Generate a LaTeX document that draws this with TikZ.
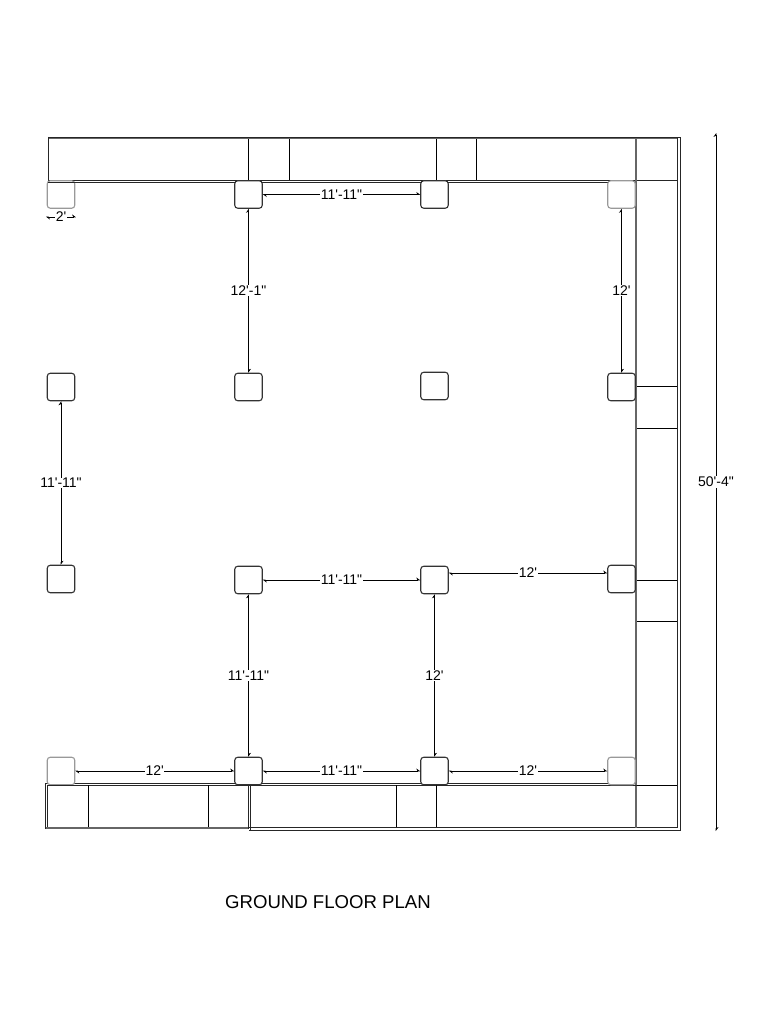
\documentclass[tikz,border=0pt]{standalone}
\usepackage{fontspec}
\setmainfont[Ligatures=TeXOff]{Liberation Sans}
\usetikzlibrary{arrows.meta}
\tikzset{
  wall/.style={draw=black!85,line width=0.9pt},
  gray wall/.style={draw=black!60,line width=1.9pt},
  thin wall/.style={draw=black,line width=0.9pt},
  pier/.style={draw=black!80,line width=1.1pt,fill=white,rounded corners=3pt,minimum size=27.5pt,inner sep=0pt},
  pale pier/.style={pier,draw=black!40},
  dim/.style={draw=black,line width=0.9pt,{Stealth[length=3.5pt,width=5pt,harpoon]}-{Stealth[length=3.5pt,width=5pt,harpoon]}},
  dim label/.style={font=\fontsize{14}{16}\selectfont,fill=white,inner sep=0.6pt},
  title/.style={font=\fontsize{18.6}{22}\selectfont,inner sep=0pt}
}
\begin{document}
\begin{tikzpicture}[x=1pt,y=-1pt]
\useasboundingbox (0,0) rectangle (768,1024);
\fill[white] (0,0) rectangle (768,1024);
% top wall
\draw[gray wall] (48,138) -- (677.5,138);
\draw[wall] (677.5,138) -- (677.5,827.5) -- (249,827.5);
\draw[wall] (48,137) -- (680,137) -- (680,830) -- (249,830);
\draw[wall] (48,137) -- (48,180);
\draw[wall] (48,180.5) -- (677,180.5);
\draw[wall] (48,182.5) -- (608,182.5);
\foreach \x in {248,289,436,476} \draw[thin wall] (\x,139) -- (\x,180);
% right wall
\draw[gray wall] (636,139) -- (636,828);
\foreach \y in {386,428,580,621,785} \draw[thin wall] (637,\y) -- (677,\y);
% bottom walls
\draw[wall] (45.5,783) -- (45.5,829);
\draw[wall] (47.5,785) -- (47.5,827);
\draw[gray wall] (45.5,828) -- (249,828);
\draw[wall] (45.5,783) -- (249,783);
\draw[wall] (47.5,785) -- (637,785);
\draw[wall] (250,783) -- (635,783);
\draw[wall] (248,785) -- (248,829);
\draw[wall] (250,785) -- (250,830);
\foreach \x in {88,208,396,436} \draw[thin wall] (\x,785) -- (\x,827);
% piers
\node[pale pier] (a1) at (61,194.5) {};
\node[pier] (b1) at (248.5,194.5) {};
\node[pier] (c1) at (434.5,194.5) {};
\node[pale pier] (d1) at (621.5,194.5) {};
\node[pier] (a2) at (61,387) {};
\node[pier] (b2) at (248.5,387) {};
\node[pier] (c2) at (434.5,386) {};
\node[pier] (d2) at (621.5,387) {};
\node[pier] (a3) at (61,579) {};
\node[pier] (b3) at (248.5,580) {};
\node[pier] (c3) at (434.5,580) {};
\node[pier] (d3) at (621.5,579) {};
\node[pale pier] (a4) at (61,771) {};
\node[pier] (b4) at (248.5,771) {};
\node[pier] (c4) at (434.5,771) {};
\node[pale pier] (d4) at (621.5,771) {};
% wall lines that pass along the pale piers' edges
\draw[wall] (48,182) -- (75,182);
\draw[wall] (47,785) -- (75,785);
% free ends
\coordinate (ovT) at (716,133);
\coordinate (ovB) at (716,831);
\coordinate (wL) at (46,217);
\coordinate (wR) at (76,217);
% dimensions
\draw[dim] (b1.east) -- node[dim label] {11'-11"} (c1.west);
\draw[dim] (b1.south) -- node[dim label] {12'-1"} (b2.north);
\draw[dim] (d1.south) -- node[dim label] {12'} (d2.north);
\draw[dim] (a2.south) -- node[dim label] {11'-11"} (a3.north);
\draw[dim] (b3.east) -- node[dim label] {11'-11"} (c3.west);
\draw[dim] ([yshift=7pt]c3.east) -- node[dim label] {12'} ([yshift=6pt]d3.west);
\draw[dim] (b3.south) -- node[dim label] {11'-11"} (b4.north);
\draw[dim] (c3.south) -- node[dim label] {12'} (c4.north);
\draw[dim] (a4.east) -- node[dim label] {12'} (b4.west);
\draw[dim] (b4.east) -- node[dim label] {11'-11"} (c4.west);
\draw[dim] (c4.east) -- node[dim label] {12'} (d4.west);
\draw[dim] (ovT) -- node[dim label] {50'-4"} (ovB);
\draw[dim] (wL) -- node[dim label] {2'} (wR);
% title
\node[title] (plan) at (328,902.5) {GROUND FLOOR PLAN};
\end{tikzpicture}
\end{document}
